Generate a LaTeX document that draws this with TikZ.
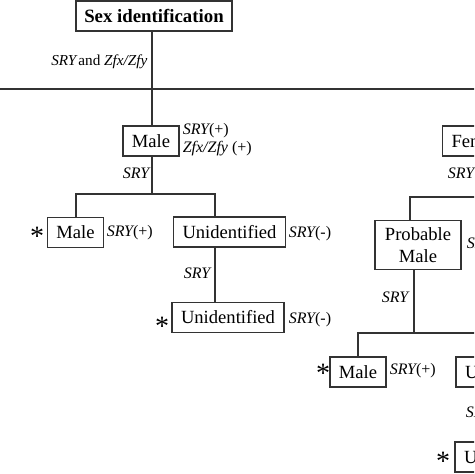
\documentclass[tikz,border=0pt]{standalone}
\usepackage{fontspec}
\setmainfont{Liberation Serif}
\usepackage{tikz}

\begin{document}
\begin{tikzpicture}[
            x=0.5pt, y=-0.5pt, line width=0.75pt,
            box node/.style={draw=black!80, minimum height=15pt, inner xsep=4.5pt, inner ysep=3pt, font=\fontsize{9.3}{11}\selectfont},
            label node/.style={inner sep=0pt, font=\fontsize{8}{9}\selectfont\itshape},
            star node/.style={inner sep=0pt, font=\fontsize{14}{14}\selectfont},
            tree line/.style={draw=black!80},
            ]
            \useasboundingbox (0,0) rectangle (474,474);
            \clip (0,0) rectangle (474,474);

            \node[box node, font=\fontsize{9.4}{11}\selectfont\bfseries, inner xsep=4.25pt] (sexid) at (154,16) {Sex identification};
            \node[box node] (male) at (151,141) {Male};
            \node[box node] (female) at (479,141) {Female};
            \node[box node] (male1) at (75.5,232.5) {Male};
            \node[box node] (unid1) at (229.5,232) {Unidentified};
            \node[box node] (unid2) at (228,317.5) {Unidentified};
            \node[box node, align=center, inner ysep=3.5pt, inner xsep=5pt] (prob) at (418,245) {Probable\\Male};
            \node[box node] (male2) at (358,372) {Male};
            \node[box node] (unid3) at (512,372) {Unidentified};
            \node[box node] (unid4) at (511,457) {Unidentified};

            \coordinate (b0) at (-10,89);
            \coordinate (b1) at (152,89);
            \coordinate (b2) at (479,89);
            \coordinate (b9) at (560,89);
            \coordinate (j1l) at (76,194);
            \coordinate (j1) at (152,194);
            \coordinate (j1r) at (215,194);
            \coordinate (j2l) at (410,197);
            \coordinate (j2) at (479,197);
            \coordinate (j2r) at (560,197);
            \coordinate (j3l) at (358,333);
            \coordinate (j3) at (414,333);
            \coordinate (j3r) at (498,333);

            % top level
            \draw[tree line] (sexid.south -| b1) -- (b1);
            \draw[tree line] (b0) -- (b9);
            \draw[tree line] (b1) -- (male.north -| b1);
            \draw[tree line] (b2) -- (female.north -| b2);

            % male branch
            \draw[tree line] (male.south -| j1) -- (j1);
            \draw[tree line] (male1.north -| j1l) -- (j1l) -- (j1r) -- (unid1.north -| j1r);
            \draw[tree line] (unid1.south -| j1r) -- (unid2.north -| j1r);

            % female branch
            \draw[tree line] (female.south -| j2) -- (j2);
            \draw[tree line] (prob.north -| j2l) -- (j2l) -- (j2r);
            \draw[tree line] (prob.south -| j3) -- (j3);
            \draw[tree line] (male2.north -| j3l) -- (j3l) -- (j3r) -- (unid3.north -| j3r);
            \draw[tree line] (unid3.south -| j3r) -- (unid4.north -| j3r);

            % labels
            \node[label node, anchor=east, font=\fontsize{7.6}{9}\selectfont\itshape] (l0) at (148,62) {SRY\hspace{1pt}\upshape and \itshape Zfx/Zfy};
            \node[label node, anchor=west, align=left] (l1) at (182,140) {SRY\upshape(+)\\Zfx/Zfy \upshape(+)};
            \node[label node, anchor=east] (l2) at (150,173) {SRY};
            \node[label node, anchor=west] (l3) at (106,233) {SRY\upshape(+)};
            \node[label node, anchor=west] (l4) at (288,234) {SRY\upshape(-)};
            \node[label node, anchor=east] (l5) at (211,273) {SRY};
            \node[label node, anchor=west] (l6) at (288,320) {SRY\upshape(-)};
            \node[label node, anchor=east] (l7) at (475,173) {SRY};
            \node[label node, anchor=west] (l8) at (466,245) {SRY\upshape(-)};
            \node[label node, anchor=east] (l9) at (409,297) {SRY};
            \node[label node, anchor=west] (l10) at (389,371) {SRY\upshape(+)};
            \node[label node, anchor=east] (l11) at (493,412) {SRY};

            \node[star node] (s1) at (37,236) {*};
            \node[star node] (s2) at (162,326) {*};
            \node[star node] (s3) at (323,373) {*};
            \node[star node] (s4) at (443,461) {*};
        \end{tikzpicture}
\end{document}
